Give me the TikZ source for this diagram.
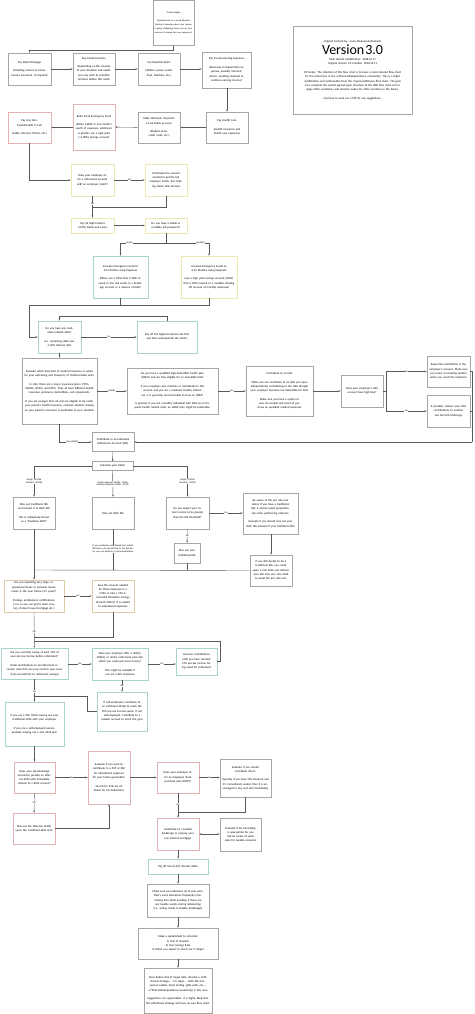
\documentclass[tikz,border=0pt]{standalone}
\usepackage{fontspec}
\setmainfont{Carlito}
\usetikzlibrary{arrows.meta}
\definecolor{gb}{HTML}{A6A6A6}
\definecolor{yb}{HTML}{EFE7B4}
\definecolor{tb}{HTML}{A8D4D0}
\definecolor{pb}{HTML}{E3B2B2}
\definecolor{nb}{HTML}{DCCBA4}
\definecolor{lc}{HTML}{595959}
\tikzset{
 bx/.style={draw=#1, fill=white, line width=0.6pt, align=center, inner sep=1pt, font=\fontsize{2.9}{4.3}\selectfont},
 ln/.style={draw=lc, line width=0.4pt},
 ar/.style={ln, -{Stealth[length=2.2pt,width=1.8pt]}},
 dar/.style={ln, {Stealth[length=2.2pt,width=1.8pt]}-{Stealth[length=2.2pt,width=1.8pt]}},
 lab/.style={font=\fontsize{2.4}{2.9}\selectfont, fill=white, inner sep=0.4pt, align=center},
}
\newcommand\mybox[7]{%
 \pgfmathsetmacro\tw{#4-4}%
 \node[bx=#6, minimum width=#4pt, minimum height=#5pt, text width=\tw pt] (#1) at (#2,#3) {#7};}
\newcommand\bl{\\[4.3pt]}
\begin{document}
\begin{tikzpicture}[x=1pt,y=-1pt]
\fill[white] (0,0) rectangle (474,1014);
\useasboundingbox (0,0) rectangle (474,1014);

% ---- row 1
\node[bx=gb, minimum width=41pt, minimum height=45pt, text width=38pt, font=\fontsize{2.3}{3.9}\selectfont] (budget) at (173.5,23) {Create Budget\\[3.9pt](Fundamental to a sound financial footing is knowing where your money is going. Budgeting forces you set your sources of income less your expenses.)};
\mybox{rent}{29.5}{69}{43}{32}{gb}{Pay Rent/Mortgage\bl(Including renters or homeowners insurance, if required)}
\mybox{food}{94}{69}{42}{32}{gb}{Buy Food/Groceries\bl(Depending on the severity of your situation and needs, you may wish to prioritize all items before this node)}
\mybox{ess}{159}{69}{42}{32}{gb}{Pay Essential Items\bl(utilities, power, water, heat, toiletries, etc.)}
\mybox{inc}{226.5}{70}{49}{36}{gb}{Pay Income-Earning Expenses\bl(Necessary transportation expenses, possibly internet/ phone, anything required to continue earning income)}
\mybox{health}{227}{127.5}{42}{31}{gb}{Pay Health Care\bl(Health insurance and health care expenses)}
\mybox{minpay}{159}{127.5}{42}{31}{gb}{Make Minimum Payments on All Debts \& Loans\bl(Student loans, credit cards, etc.)}
\mybox{smallef}{94}{127}{42}{46}{pb}{Build Small Emergency Fund\bl(Either \$1000 or one month's worth of expenses, whichever is greater, use a high yield (>1.00\%) savings account)}
\mybox{noness}{29.5}{127.5}{43}{31}{pb}{Pay Any Non-Essential Bills in Full\bl(Cable, Internet, Phone, etc.)}

% ---- version box
\node[bx=gb, minimum width=119pt, minimum height=88pt, text width=113pt] (ver) at (352.5,70) {Original Content by: /u/ae-thepeaceandoutside\\[1pt]{\fontsize{14}{15}\selectfont Version~3.0}\\[2pt]Most Recent Modification: 2018.10.17\\Original Version 1.0 Created: 2018.10.11\bl OP Notes: The intention of this flow chart is to have a more tailored flow chart for the American's in the /r/financialindependence community. This is a slight modification and continuation from the /r/personalfinance flow chart. The goal is to complete the overall agreed upon structure of the FIRE flow chart and to apply other vocabulary and decision nodes for other countries in the future.\bl Feel free to send me a PM for any suggestions.};

% ---- employer match etc
\mybox{match}{92.5}{180}{43}{32}{yb}{Does your employer offer a retirement account with an employer match?}
\mybox{contrib}{166}{180}{42}{32}{yb}{Contribute the amount needed to get the full employer match, but nothing above that amount}
\mybox{highint}{92.5}{225.5}{43}{15}{yb}{Pay All High Interest (>10\%) Debts and Loans}
\mybox{stable}{166}{225.5}{42}{15}{yb}{Do you have a stable or unstable job prospects?}
\mybox{efA}{120.5}{277}{55}{42}{tb}{Increase Emergency Funds to 3-6 Months Living Expenses\bl(Either use a HYSA that is FDIC insured or low risk assets in a brokerage account or a mixture of both)}
\mybox{efB}{209}{277}{56}{42}{yb}{Increase Emergency Funds to 6-12 Months Living Expenses\bl(use a high yield savings account (HYSA) that is FDIC insured or a multiple rotating CD account of monthly expenses)}
\mybox{moderate}{59.5}{337}{43}{32}{tb}{Do you have any moderate interest debt?\bl(i.e. remaining debt over 4-10\% interest rate)}
\mybox{payoff}{167}{337}{60}{32}{tb}{Pay off the highest interest rate first and then subsequently the others}

% ---- health
\mybox{medical}{59.5}{391}{75}{66}{gb}{Evaluate which kind kind of medical insurance is suited for your well-being and frequency of health-related visits.\bl In USA, there are 4 major insurance plans: PPOs, HDHPs, HMOs, and EPOs. They all have different health insurance premiums, deductibles, and copayments.\bl If you are younger than 26 and are eligible to be under your parent's health insurance, evaluate whether staying on your parent's insurance is preferable to your situation}
\mybox{hdhp}{172.5}{391}{91}{46}{gb}{Do you have a qualified high deductible health plan (HDHP) and are thus eligible for an Investable HSA?\bl If your employer also matches or contributes to this account and you are a relatively healthy individual, it is generally recommended to have an HDHP.\bl In general, if you are a healthy individual with little to no frequent health related visits, an HDHP plan might be preferable.}
\mybox{hsa}{279.5}{391}{67}{50}{gb}{Contribute to an HSA\bl While you can contribute to an HSA you open independently, contributing to the HSA through your employer becomes tax deductible for FICA\bl Make sure you have a system to save all receipts and proof of purchase on qualified medical expenses}
\mybox{fees}{362}{391}{42}{32}{gb}{Does your employer's HSA account have high fees?}
\mybox{keep}{448.5}{371.5}{43}{31}{gb}{Keep HSA contribution in the employer's account. Make sure you invest in investing portion when you reach the minimum}
\mybox{rollhsa}{448.5}{411}{43}{32}{gb}{If possible, rollover your HSA contributions to another low fee HSA brokerage}

% ---- IRA
\mybox{ira}{113}{441.5}{42}{19}{gb}{Contribute to an Individual Retirement Account (IRA)}
\node[bx=gb, minimum width=41pt, minimum height=9pt, text width=37pt] (magi) at (112.5,466) {Calculate your MAGI};
\mybox{backdoor}{34}{513}{42}{32}{gb}{Max out traditional IRA and convert it to Roth IRA\bl This is colloquially known as a ``backdoor Roth''}
\mybox{roth}{113}{513}{42}{32}{gb}{Max out Roth IRA}
\mybox{expect}{187.5}{513}{43}{32}{gb}{Do you expect your future income to be greater than the IRS threshold?}
\mybox{prorata}{270.5}{513.5}{55}{41}{gb}{Be aware of the pro rata rule where if you have a traditional IRA, it will be taxed proportionally when performing rollovers.\bl Evaluate if you should max out your Roth IRA instead of your traditional IRA}
\mybox{maxtrad}{187}{553}{26}{20}{gb}{Max out your traditional IRA}
\mybox{solo}{271}{570.5}{42}{31}{gb}{If you still decide to do a traditional IRA, you could open a solo 401k and rollover your IRA into your solo 401k to avoid the pro rata rule.}

% ---- purchases / 15%
\mybox{purch}{34}{596}{60}{32}{nb}{Are you expecting very large, required purchases or personal investments in the near future (3-5 years)?\bl(College, professional certifications, a car so you can get to work, buying a future house/mortgage etc.)}
\mybox{save}{113}{596}{42}{32}{nb}{Save the amount needed for these expenses in a HYSA or into a 529 or Coverdell Education Savings Account (ESA) if it is related to educational expenses}
\mybox{sav15}{34.5}{663.5}{67}{31}{tb}{Are you currently saving at least 15\% of your pre-tax income before retirement?\bl(Total contributions to all retirement accounts; note that you may need to save more if you are behind on retirement savings)}
\mybox{emp}{120}{664}{56}{32}{tb}{Does your employer offer a 401(k), 403(b), or similar retirement plan into which you could put more money?\bl This might be available if you are a W2 employee}
\mybox{increase}{196.5}{661.5}{41}{27}{tb}{Increase contributions until you have reached 15\% pre-tax income being saved for retirement}
\mybox{selfemp}{122}{711.5}{50}{39}{tb}{If self-employed, contribute to an individual 401(k) to reach the 15\% pre-tax income saved. If not self-employed, contribute to a taxable account to reach this goal}
\mybox{wtwo}{34.5}{724}{59}{44}{tb}{If you are a W2, finish maxing out your traditional 401k with your employer\bl If you are a self-employed person, evaluate maxing out a solo 401k plan}

% ---- after tax etc
\mybox{after}{34.5}{777.5}{41}{31}{pb}{Does your tax-advantage account(s) provide an after-tax 401k with immediate rollover to a Roth account?}
\mybox{edu}{109}{777.5}{42}{53}{pb}{Evaluate if you want to contribute to a 529 or ESA for educational expenses for your future generation.\bl Search for 529s by US States for tax deductions}
\mybox{espp}{178}{777.5}{42}{31}{pb}{Does your employer offer an employee stock purchase plan (ESPP)?}
\mybox{esppev}{245.5}{778}{51}{38}{gb}{Evaluate if you should contribute into it.\bl Typically if you have 15\% discount and it's immediately vested, then it is encouraged to buy and sell immediately}
\mybox{maxft}{34}{828.5}{42}{31}{pb}{Max out the after-tax 401(k) up to the combined \$56k limit}
\mybox{taxable}{178}{834}{42}{32}{pb}{Contribute to a taxable brokerage or overpay your low interest mortgage}
\mybox{harvest}{240.5}{834.5}{41}{33}{gb}{Evaluate if tax harvesting is appropriate for you and be aware of wash sales for taxable accounts}
\mybox{lowdebt}{178}{866.5}{60}{15}{tb}{Pay off low (0-4\%) interest debts}
\mybox{rebal}{178}{900.5}{62}{33}{gb}{Make sure you rebalance all of your portfolio's asset allocations frequently (minimizing fees while avoiding if there are any taxable events during rebalancing (i.e. selling stocks in taxable brokerage))}
\mybox{sheet}{178}{943.5}{80}{31}{gb}{Make a spreadsheet to calculate:\\1) Your FI Number\\2) Your Savings Rate\\3) When you expect to reach our FI Target}
\mybox{withdraw}{178}{990.5}{68}{45}{gb}{Years before that FI target date, develop a withdrawal strategy.... 3.5 steps.... Roth IRA Conversion Ladder, bond tenting, glide path, etc.... /r/financialindependence would help in this area\bl Suggestions are appreciated. It is highly likely that the withdrawal strategy will have its own flow chart.}

% ================= connectors
\draw[ar] (budget.south) -- (173.5,50) -| (rent.north);
\draw[ar] (rent) -- (food);
\draw[ar] (food) -- (ess);
\draw[ar] (ess.east) -- (inc.west|-ess.east);
\draw[ar] (inc.south-|health.north) -- (health.north);
\draw[ar] (health) -- (minpay);
\draw[ar] (minpay) -- (smallef);
\draw[ar] (smallef.west|-noness.east) -- (noness.east);
\draw[ar] (noness.south) |- (match.west);
\draw[ar] (match) -- node[lab]{Yes} (contrib);
\draw[ar] (match) -- node[lab, pos=0.35]{No} (highint);
\coordinate (j1) at (92.5,207);
\draw[ln] (contrib.south) |- (j1);
\draw[ar] (highint) -- (stable);
\coordinate (j2) at (166,243);
\draw[ln] (stable.south) -- (j2);
\draw[ar] (j2) -| node[lab, pos=0.4]{Stable} (efA.north);
\draw[ar] (j2) -| node[lab, pos=0.4]{Unstable} (efB.north);
\coordinate (j3) at (29.5,305);
\draw[ln] (efA.south) -- (efA.south|-j3);
\draw[ar] (efB.south) |- (j3) |- (moderate.west);
\draw[ar] (moderate) -- node[lab]{Yes} (payoff);
\draw[ar] (payoff.north) -- (167,316) -| (moderate.north);
\draw[ar] (moderate) -- (medical);
\draw[ar] (medical.east) -- node[lab]{HDHPs} (hdhp.west);
\draw[ar] (hdhp.east) -- node[lab]{Yes} (hsa.west);
\draw[ar] (hsa.east) -- (fees.west);
\coordinate (j4) at (386,391);
\draw[ln] (fees.east) -- (j4);
\draw[ar] (j4) |- node[lab, pos=0.75]{No} (keep.west);
\draw[ar] (j4) |- node[lab, pos=0.75]{Yes} (rollhsa.west);
\coordinate (j5) at (472,442);
\draw[ln] (keep.east) -| (j5);
\draw[ln] (rollhsa.east) -- (472,411);
\draw[ar] (j5) -- (ira.east|-j5);
\draw[ar] (medical.south) |- node[lab, pos=0.7]{Non-HDHPs} (ira.west|-j5);
\draw[ar] (ira) -- (magi);
\coordinate (m1) at (34,466);
\coordinate (m2) at (187.5,466);
\draw[ln] (magi.west) -- (m1);
\draw[ln] (magi.east) -- (m2);
\draw[ar] (m1) -- node[lab]{Single: <\$120k\\Married: <\$189k} (backdoor.north);
\draw[ar] (magi.south) -- node[lab]{Single: between \$120k - \$135k\\Married: between \$189k - \$199k} (roth.north);
\draw[ar] (m2) -- node[lab]{Single: >\$135k\\Married: >\$199k} (expect.north);
\draw[ar] (expect) -- node[lab]{Yes} (prorata.west|-expect.east);
\draw[ar] (expect) -- node[lab]{No} (maxtrad);
\draw[ar] (prorata.south-|solo.north) -- (solo.north);
\coordinate (bus) at (34,570);
\draw[ln] (solo.west) -- (bus);
\draw[ln] (roth.south) -- (113,570);
\node[lab, text width=52pt] (recharlab) at (113,549) {If you accidently contributed into a Roth IRA when you cannot due to the IRS limits, you can perform a recharacterization};
\draw[ln] (maxtrad.south) -- (187,570);
\draw[ar] (backdoor.south) -- (purch.north);
\draw[ar] (purch) -- node[lab]{Yes} (save);
\draw[ln] (save.south) |- (34,637);
\draw[ar] (purch.south) -- node[lab, pos=0.55]{No} (sav15.north);
\draw[ln] (increase.east) -- (220,661.5) |- (34,641);
\draw[ar] (sav15.east|-emp.west) -- node[lab]{No} (emp.west);
\draw[ar] (emp.east) -- node[lab]{Yes} (increase.west|-emp.east);
\draw[ar] (emp.south-|selfemp.north) -- node[lab]{No} (selfemp.north);
\draw[ln] (selfemp.west) -- (87,711.5) |- (34.5,696);
\draw[ar] (sav15.south) -- node[lab, pos=0.55]{Yes} (wtwo.north);
\draw[ar] (wtwo) -- (after);
\draw[ar] (after) -- node[lab]{No} (edu);
\draw[ar] (after) -- node[lab]{Yes} (maxft);
\draw[ar] (maxft.east) -| (edu.south);
\draw[ar] (edu) -- (espp);
\draw[ar] (espp.east) -- node[lab]{Yes} (esppev.west|-espp.east);
\draw[ar] (espp) -- node[lab, pos=0.45]{No} (taxable);
\draw[ln] (esppev.south) |- (178,812);
\draw[dar] (taxable.east) -- (harvest.west|-taxable.east);
\draw[ar] (taxable) -- (lowdebt);
\draw[ar] (lowdebt) -- (rebal);
\draw[ar] (rebal) -- (sheet);
\draw[ar] (sheet) -- (withdraw);
\end{tikzpicture}
\end{document}
